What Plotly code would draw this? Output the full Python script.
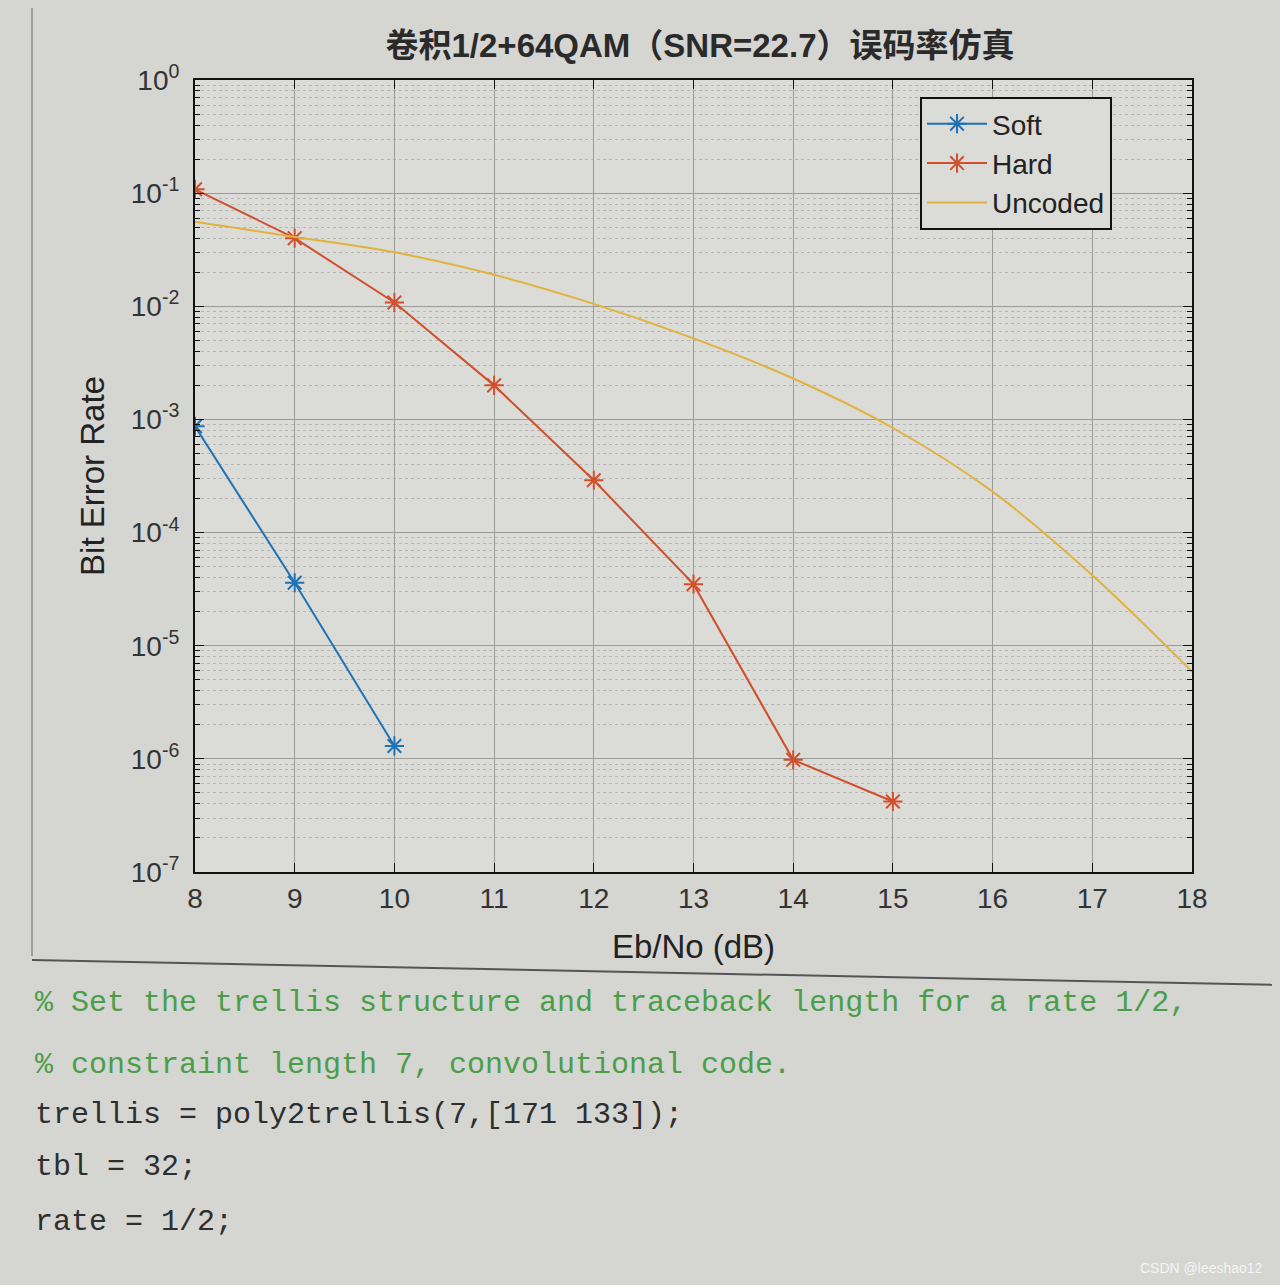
import plotly.graph_objects as go

# ---- data ----
ebno_soft = [8, 9, 10]
ber_soft = [8.7e-4, 3.6e-5, 1.3e-6]

ebno_hard = [8, 9, 10, 11, 12, 13, 14, 15]
ber_hard = [0.108, 0.040, 0.0108, 2.0e-3, 2.9e-4, 3.5e-5, 9.8e-7, 4.2e-7]

ebno_unc = [8, 9, 10, 11, 12, 13, 14, 15, 16, 17, 18]
ber_unc = [0.056, 0.041, 0.030, 0.019, 0.0105, 0.0052, 0.0023, 8.4e-4, 2.3e-4, 4.2e-5, 5.9e-6]

x_ticks = [8, 9, 10, 11, 12, 13, 14, 15, 16, 17, 18]
y_exps = [0, -1, -2, -3, -4, -5, -6, -7]

code_lines = [
    ("% Set the trellis structure and traceback length for a rate 1/2,", "#4a9e48"),
    ("% constraint length 7, convolutional code.", "#4a9e48"),
    ("trellis = poly2trellis(7,[171 133]);", "#2e2e2e"),
    ("tbl = 32;", "#2e2e2e"),
    ("rate = 1/2;", "#2e2e2e"),
]
code_y = [1003, 1065, 1115, 1167, 1222]

# ---- geometry (screen pixels; page body has an 8px margin) ----
OFF = 8
SW, SH = 1280, 1285
L, R, T, B = 195, 1192, 80, 872
W, H = SW - OFF, SH - OFF
BG = "#d5d5d2"

def px(xp):
    return (xp - L) / (R - L)

def py(yp):
    return (B - yp) / (B - T)

FONT = "Liberation Sans, Arial, Noto Sans CJK SC"

fig = go.Figure()
fig.add_trace(go.Scatter(
    x=ebno_soft, y=ber_soft, name="Soft", mode="lines+markers",
    line=dict(color="#1f72b6", width=2),
    marker=dict(symbol="asterisk-open", size=16, line=dict(color="#1f72b6", width=2)),
))
fig.add_trace(go.Scatter(
    x=ebno_hard, y=ber_hard, name="Hard", mode="lines+markers",
    line=dict(color="#d0502c", width=2),
    marker=dict(symbol="asterisk-open", size=16, line=dict(color="#d0502c", width=2)),
))
fig.add_trace(go.Scatter(
    x=ebno_unc, y=ber_unc, name="Uncoded", mode="lines",
    line=dict(color="#e2b23c", width=2, shape="spline"),
))

axis_common = dict(
    showline=True, linecolor="#111111", linewidth=2, mirror="ticks",
    ticks="inside", tickcolor="#111111", ticklen=9,
    tickfont=dict(family=FONT, size=28, color="#333333"),
    showgrid=True, gridcolor="#9a9a98", gridwidth=1, zeroline=False,
)

fig.update_layout(
    width=W, height=H,
    margin=dict(l=L - OFF, r=SW - R, t=T - OFF, b=SH - B),
    paper_bgcolor=BG,
    plot_bgcolor="#dbdbd8",
    title=dict(text="<b>卷积1/2+64QAM（SNR=22.7）误码率仿真</b>", x=(700 - OFF) / W, xanchor="center",
               y=1 - (45 - OFF) / H, yanchor="middle",
               font=dict(family=FONT, size=33, color="#2a2a2a")),
    xaxis=dict(
        range=[8, 18], tickvals=x_ticks, ticktext=[str(v) for v in x_ticks],
        title=dict(text="Eb/No (dB)", font=dict(family=FONT, size=33, color="#222222"), standoff=22),
        **axis_common,
    ),
    yaxis=dict(
        type="log", range=[-7, 0],
        tickvals=[10.0 ** e for e in y_exps],
        ticktext=["10<sup>%d</sup>" % e for e in y_exps],
        ticklabelstandoff=8,
        title=dict(text="Bit Error Rate", font=dict(family=FONT, size=33, color="#222222"), standoff=16),
        minor=dict(dtick="D1", ticks="inside", ticklen=5, tickcolor="#111111",
                   showgrid=True, gridcolor="#b6b6b4", griddash="dot", gridwidth=1),
        **axis_common,
    ),
    legend=dict(
        x=px(920), y=py(97), xanchor="left", yanchor="top",
        bgcolor="#dbdbd8", bordercolor="#111111", borderwidth=2,
        font=dict(family=FONT, size=28, color="#222222"),
        itemwidth=60, tracegroupgap=2,
    ),
    showlegend=True,
)

# figure window borders (photo frame lines)
fig.add_shape(type="line", xref="paper", yref="paper",
              x0=px(32), y0=py(960), x1=px(1280), y1=py(985),
              line=dict(color="#555555", width=2))
fig.add_shape(type="line", xref="paper", yref="paper",
              x0=px(32), y0=py(0), x1=px(32), y1=py(956),
              line=dict(color="#8a8a8a", width=1.5))

# code text below chart
for (txt, col), yp in zip(code_lines, code_y):
    fig.add_annotation(
        text=txt.replace(" ", "&nbsp;"), xref="paper", yref="paper",
        x=px(33), y=py(yp), xanchor="left", yanchor="middle", showarrow=False,
        font=dict(family="Liberation Mono, DejaVu Sans Mono, monospace", size=30, color=col),
    )

fig.add_annotation(
    text="CSDN @leeshao12", xref="paper", yref="paper",
    x=px(1265), y=py(1268), xanchor="right", yanchor="middle", showarrow=False,
    font=dict(family=FONT, size=14, color="#f4f4f4"),
)

fig.write_html("out.html", post_script="document.body.style.background='%s';" % BG)
